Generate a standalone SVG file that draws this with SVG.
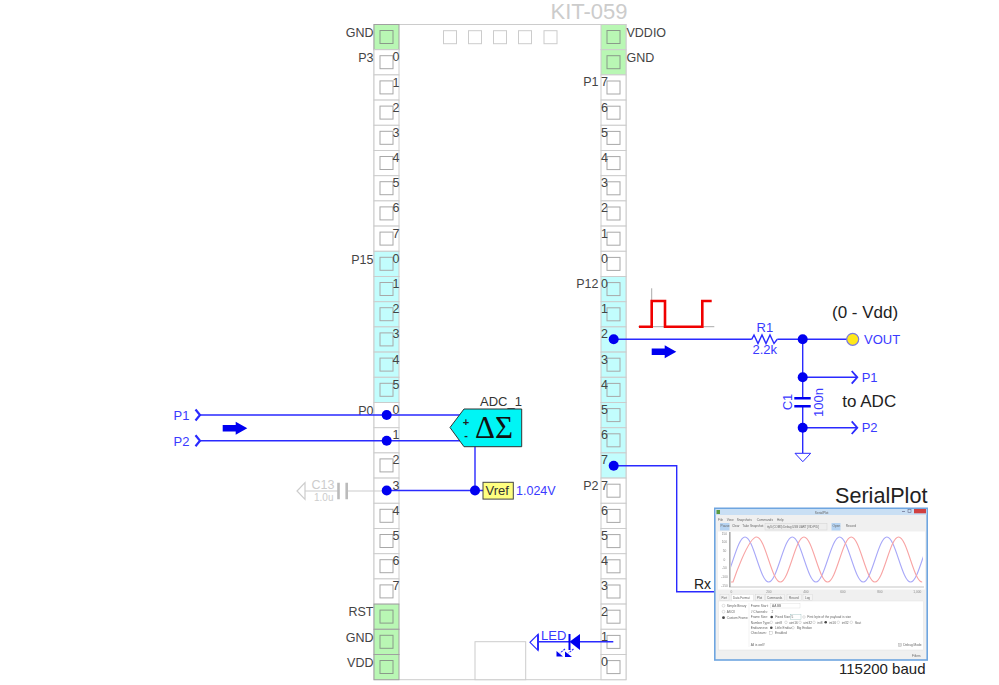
<svg xmlns="http://www.w3.org/2000/svg" width="999" height="685" viewBox="0 0 999 685">
<style>
text{font-family:"Liberation Sans",Arial,sans-serif}
.bg{fill:#fff}
.c{fill:#fff;stroke:#ccc;stroke-width:1}
.g{fill:#b9f7b4;stroke:#a0a0a0;stroke-width:1}
.y{fill:#c2fdfd;stroke:#ccc;stroke-width:1}
.s{fill:none;stroke:#a8a8a8;stroke-width:1}
.sg{fill:none;stroke:#8a9a8a;stroke-width:1}
.t{fill:#444;font-size:12.5px}
.l{fill:#444;font-size:12.5px;text-anchor:end}
.b{fill:#3a3aff;font-size:13px}
.w{fill:none;stroke:#2a2aff;stroke-width:1.4}
.d{fill:#0000f0}
.k{fill:#222}
.m{font-size:3.2px;fill:#666}
.a{font-size:3.2px;fill:#888;text-anchor:middle}
.r{fill:#fff;stroke:#999;stroke-width:.3}
.on{fill:#444}
.tab{fill:#f4f4f4;stroke:#ccc;stroke-width:.3}
</style>
<defs>
<filter id="soft" x="-5%" y="-5%" width="110%" height="110%"><feGaussianBlur stdDeviation="0.5"/></filter>
<clipPath id="plotclip"><rect x="731" y="532" width="192" height="55"/></clipPath>
<path id="arrow" d="M0-3.2H13V-6.5L24.6 0 13 6.5V3.2H0Z" fill="#0000f0"/>
</defs>
<rect class="bg" width="999" height="685"/>
<g id="kit">
<rect x="374" y="24.5" width="252" height="655.2" fill="#fff" stroke="#ccc"/>
<text x="550.5" y="19" font-size="22" fill="#ccc">KIT-059</text>
<g class="s" style="stroke:#ccc"><rect x="443.5" y="30.7" width="13" height="13"/><rect x="468.5" y="30.7" width="13" height="13"/><rect x="493.5" y="30.7" width="13" height="13"/><rect x="518.5" y="30.7" width="13" height="13"/><rect x="544" y="30.7" width="13" height="13"/></g>
<rect id="usb" x="475" y="641.7" width="50.7" height="38" fill="#fff" stroke="#ccc"/>
</g>
<g id="left-pins">
<g id="L-GND1"><rect class="g" x="374" y="24.5" width="25" height="25.2"/><rect class="sg" x="380" y="30.5" width="13" height="13"/><text class="l" x="373.5" y="36.5">GND</text></g>
<g id="L-P3-0"><rect class="c" x="374" y="49.7" width="25" height="25.2"/><rect class="s" x="380" y="55.7" width="13" height="13"/><text class="t" x="392.5" y="61">0</text><text class="l" x="373.5" y="62">P3</text></g>
<g id="L-P3-1"><rect class="c" x="374" y="74.9" width="25" height="25.2"/><rect class="s" x="380" y="80.9" width="13" height="13"/><text class="t" x="392.5" y="86.5">1</text></g>
<g id="L-P3-2"><rect class="c" x="374" y="100.1" width="25" height="25.2"/><rect class="s" x="380" y="106.1" width="13" height="13"/><text class="t" x="392.5" y="111.5">2</text></g>
<g id="L-P3-3"><rect class="c" x="374" y="125.3" width="25" height="25.2"/><rect class="s" x="380" y="131.3" width="13" height="13"/><text class="t" x="392.5" y="136.8">3</text></g>
<g id="L-P3-4"><rect class="c" x="374" y="150.5" width="25" height="25.2"/><rect class="s" x="380" y="156.5" width="13" height="13"/><text class="t" x="392.5" y="162">4</text></g>
<g id="L-P3-5"><rect class="c" x="374" y="175.7" width="25" height="25.2"/><rect class="s" x="380" y="181.7" width="13" height="13"/><text class="t" x="392.5" y="187.2">5</text></g>
<g id="L-P3-6"><rect class="c" x="374" y="200.9" width="25" height="25.2"/><rect class="s" x="380" y="206.9" width="13" height="13"/><text class="t" x="392.5" y="212.4">6</text></g>
<g id="L-P3-7"><rect class="c" x="374" y="226.1" width="25" height="25.2"/><rect class="s" x="380" y="232.1" width="13" height="13"/><text class="t" x="392.5" y="237.6">7</text></g>
<g id="L-P15-0"><rect class="y" x="374" y="251.3" width="25" height="25.2"/><rect class="s" x="380" y="257.3" width="13" height="13"/><text class="t" x="392.5" y="262.8">0</text><text class="l" x="373.5" y="263.8">P15</text></g>
<g id="L-P15-1"><rect class="y" x="374" y="276.5" width="25" height="25.2"/><rect class="s" x="380" y="282.5" width="13" height="13"/><text class="t" x="392.5" y="288">1</text></g>
<g id="L-P15-2"><rect class="y" x="374" y="301.7" width="25" height="25.2"/><rect class="s" x="380" y="307.7" width="13" height="13"/><text class="t" x="392.5" y="313.2">2</text></g>
<g id="L-P15-3"><rect class="y" x="374" y="326.9" width="25" height="25.2"/><rect class="s" x="380" y="332.9" width="13" height="13"/><text class="t" x="392.5" y="338.4">3</text></g>
<g id="L-P15-4"><rect class="y" x="374" y="352.1" width="25" height="25.2"/><rect class="s" x="380" y="358.1" width="13" height="13"/><text class="t" x="392.5" y="363.6">4</text></g>
<g id="L-P15-5"><rect class="y" x="374" y="377.3" width="25" height="25.2"/><rect class="s" x="380" y="383.3" width="13" height="13"/><text class="t" x="392.5" y="388.8">5</text></g>
<g id="L-P0-0"><rect class="c" x="374" y="402.5" width="25" height="25.2"/><text class="t" x="392.5" y="414">0</text><text class="l" x="373.5" y="415">P0</text></g>
<g id="L-P0-1"><rect class="c" x="374" y="427.7" width="25" height="25.2"/><text class="t" x="392.5" y="439.2">1</text></g>
<g id="L-P0-2"><rect class="c" x="374" y="452.9" width="25" height="25.2"/><rect class="s" x="380" y="458.9" width="13" height="13"/><text class="t" x="392.5" y="464.4">2</text></g>
<g id="L-P0-3"><rect class="c" x="374" y="478.1" width="25" height="25.2"/><text class="t" x="392.5" y="489.6">3</text></g>
<g id="L-P0-4"><rect class="c" x="374" y="503.3" width="25" height="25.2"/><rect class="s" x="380" y="509.3" width="13" height="13"/><text class="t" x="392.5" y="514.8">4</text></g>
<g id="L-P0-5"><rect class="c" x="374" y="528.5" width="25" height="25.2"/><rect class="s" x="380" y="534.5" width="13" height="13"/><text class="t" x="392.5" y="540">5</text></g>
<g id="L-P0-6"><rect class="c" x="374" y="553.7" width="25" height="25.2"/><rect class="s" x="380" y="559.7" width="13" height="13"/><text class="t" x="392.5" y="565.2">6</text></g>
<g id="L-P0-7"><rect class="c" x="374" y="578.9" width="25" height="25.2"/><rect class="s" x="380" y="584.9" width="13" height="13"/><text class="t" x="392.5" y="590.4">7</text></g>
<g id="L-RST"><rect class="g" x="374" y="604.1" width="25" height="25.2"/><rect class="sg" x="380" y="610.1" width="13" height="13"/><text class="l" x="373.5" y="616">RST</text></g>
<g id="L-GND2"><rect class="g" x="374" y="629.3" width="25" height="25.2"/><rect class="sg" x="380" y="635.3" width="13" height="13"/><text class="l" x="373.5" y="641.5">GND</text></g>
<g id="L-VDD"><rect class="g" x="374" y="654.5" width="25" height="25.2"/><rect class="sg" x="380" y="660.5" width="13" height="13"/><text class="l" x="373.5" y="666.7">VDD</text></g>
</g>
<g id="right-pins">
<g id="R-VDDIO"><rect class="g" x="601" y="24.5" width="25" height="25.2" style="stroke:#ccc"/><rect class="sg" x="607" y="30.5" width="13" height="13"/><text class="t" x="626.5" y="36.5">VDDIO</text></g>
<g id="R-GND"><rect class="g" x="601" y="49.7" width="25" height="25.2" style="stroke:#ccc"/><rect class="sg" x="607" y="55.7" width="13" height="13"/><text class="t" x="626.5" y="62">GND</text></g>
<g id="R-P1-7"><rect class="c" x="601" y="74.9" width="25" height="25.2"/><rect class="s" x="607" y="81" width="13" height="13"/><text class="t" x="601" y="86">7</text><text class="l" x="598.5" y="86">P1</text></g>
<g id="R-P1-6"><rect class="c" x="601" y="100.1" width="25" height="25.2"/><rect class="s" x="607" y="106.2" width="13" height="13"/><text class="t" x="601" y="111.5">6</text></g>
<g id="R-P1-5"><rect class="c" x="601" y="125.3" width="25" height="25.2"/><rect class="s" x="607" y="131.4" width="13" height="13"/><text class="t" x="601" y="136.8">5</text></g>
<g id="R-P1-4"><rect class="c" x="601" y="150.5" width="25" height="25.2"/><rect class="s" x="607" y="156.6" width="13" height="13"/><text class="t" x="601" y="162">4</text></g>
<g id="R-P1-3"><rect class="c" x="601" y="175.7" width="25" height="25.2"/><rect class="s" x="607" y="181.8" width="13" height="13"/><text class="t" x="601" y="187.2">3</text></g>
<g id="R-P1-2"><rect class="c" x="601" y="200.9" width="25" height="25.2"/><rect class="s" x="607" y="207" width="13" height="13"/><text class="t" x="601" y="212.4">2</text></g>
<g id="R-P1-1"><rect class="c" x="601" y="226.1" width="25" height="25.2"/><rect class="s" x="607" y="232.2" width="13" height="13"/><text class="t" x="601" y="237.6">1</text></g>
<g id="R-P1-0"><rect class="c" x="601" y="251.3" width="25" height="25.2"/><rect class="s" x="607" y="257.4" width="13" height="13"/><text class="t" x="601" y="262.8">0</text></g>
<g id="R-P12-0"><rect class="y" x="601" y="276.5" width="25" height="25.2"/><rect class="s" x="607" y="282.6" width="13" height="13"/><text class="t" x="601" y="288">0</text><text class="l" x="598.5" y="288">P12</text></g>
<g id="R-P12-1"><rect class="y" x="601" y="301.7" width="25" height="25.2"/><rect class="s" x="607" y="307.8" width="13" height="13"/><text class="t" x="601" y="313.2">1</text></g>
<g id="R-P12-2"><rect class="y" x="601" y="326.9" width="25" height="25.2"/><text class="t" x="601" y="338.4">2</text></g>
<g id="R-P12-3"><rect class="y" x="601" y="352.1" width="25" height="25.2"/><rect class="s" x="607" y="358.2" width="13" height="13"/><text class="t" x="601" y="363.6">3</text></g>
<g id="R-P12-4"><rect class="y" x="601" y="377.3" width="25" height="25.2"/><rect class="s" x="607" y="383.4" width="13" height="13"/><text class="t" x="601" y="388.8">4</text></g>
<g id="R-P12-5"><rect class="y" x="601" y="402.5" width="25" height="25.2"/><rect class="s" x="607" y="408.6" width="13" height="13"/><text class="t" x="601" y="414">5</text></g>
<g id="R-P12-6"><rect class="y" x="601" y="427.7" width="25" height="25.2"/><rect class="s" x="607" y="433.8" width="13" height="13"/><text class="t" x="601" y="439.2">6</text></g>
<g id="R-P12-7"><rect class="y" x="601" y="452.9" width="25" height="25.2"/><text class="t" x="601" y="464.4">7</text></g>
<g id="R-P2-7"><rect class="c" x="601" y="478.1" width="25" height="25.2"/><rect class="s" x="607" y="484.2" width="13" height="13"/><text class="t" x="601" y="489.6">7</text><text class="l" x="598.5" y="489.6">P2</text></g>
<g id="R-P2-6"><rect class="c" x="601" y="503.3" width="25" height="25.2"/><rect class="s" x="607" y="509.4" width="13" height="13"/><text class="t" x="601" y="514.8">6</text></g>
<g id="R-P2-5"><rect class="c" x="601" y="528.5" width="25" height="25.2"/><rect class="s" x="607" y="534.6" width="13" height="13"/><text class="t" x="601" y="540">5</text></g>
<g id="R-P2-4"><rect class="c" x="601" y="553.7" width="25" height="25.2"/><rect class="s" x="607" y="559.8" width="13" height="13"/><text class="t" x="601" y="565.2">4</text></g>
<g id="R-P2-3"><rect class="c" x="601" y="578.9" width="25" height="25.2"/><rect class="s" x="607" y="585" width="13" height="13"/><text class="t" x="601" y="590.4">3</text></g>
<g id="R-P2-2"><rect class="c" x="601" y="604.1" width="25" height="25.2"/><rect class="s" x="607" y="610.2" width="13" height="13"/><text class="t" x="601" y="615.6">2</text></g>
<g id="R-P2-1"><rect class="c" x="601" y="629.3" width="25" height="25.2"/><rect class="s" x="607" y="635.4" width="13" height="13"/><text class="t" x="601" y="640.8">1</text></g>
<g id="R-P2-0"><rect class="c" x="601" y="654.5" width="25" height="25.2"/><rect class="s" x="607" y="660.6" width="13" height="13"/><text class="t" x="601" y="666">0</text></g>
</g>
<g id="connectors">
<path d="M305 491H338M347 491H386.7" fill="none" stroke="#ccc" stroke-width="1.2"/>
<path class="w" d="M199 415H462M199 440.7H460M386.7 490.5H483M475 446V490.5"/>
<path class="w" d="M613.7 339.3H751.7M777.3 339.3H847M802.7 339.3V398M802.7 406V453.3M802.7 377.3H857M802.7 427.7H857"/>
<path class="w" d="M613.7 465.8H676.7V591.7H716"/>
<path class="w" d="M538 641.7H570M580 641.7H613.3"/>
</g>
<g id="P1-in"><path class="w" style="stroke-width:2.2" d="M195.5 409.5L200 415 195.5 420.5"/><text class="b" x="173.5" y="420">P1</text></g>
<g id="P2-in"><path class="w" style="stroke-width:2.2" d="M195.5 435.2L200 440.7 195.5 446.2"/><text class="b" x="173.5" y="445.5">P2</text></g>
<use id="flow-left" href="#arrow" x="222.7" y="428.3"/>
<use id="flow-right" href="#arrow" x="651.7" y="351.7"/>
<g id="dots"><circle class="d" cx="386.7" cy="415" r="5"/><circle class="d" cx="386.7" cy="440.7" r="5"/><circle class="d" cx="386.7" cy="490.5" r="5"/><circle class="d" cx="475" cy="490.5" r="5"/><circle class="d" cx="613.7" cy="339.3" r="5"/><circle class="d" cx="613.7" cy="465.8" r="5"/><circle class="d" cx="802.7" cy="339.3" r="5"/><circle class="d" cx="802.7" cy="377.3" r="5"/><circle class="d" cx="802.7" cy="427.7" r="5"/></g>
<g id="ADC_1">
<path d="M450 427.5L464 409H521.7V446.7H464Z" fill="#00f5f5" stroke="#333" stroke-width="1"/>
<text class="t" x="480" y="405.5" style="font-size:13px;fill:#333">ADC_1</text>
<text x="466" y="425.5" font-size="11" font-weight="bold" text-anchor="middle" fill="#222">+</text>
<text x="466" y="438.5" font-size="11" font-weight="bold" text-anchor="middle" fill="#222">-</text>
<text x="475" y="438" font-size="31" style="font-family:'Liberation Serif','DejaVu Serif',serif" fill="#111">ΔΣ</text>
</g>
<g id="Vref"><rect x="483" y="482.3" width="30.3" height="16.8" fill="#ffff80" stroke="#444"/><text x="485.5" y="495" font-size="13" fill="#333">Vref</text><text class="b" x="516" y="495" style="font-size:12.5px">1.024V</text></g>
<g id="C13" fill="#ccc">
<path d="M305 482.7L297 491 305 499.3Z" fill="#fff" stroke="#ccc" stroke-width="1.2"/>
<path d="M338.5 482.7V499.3M346.7 482.7V499.3" fill="none" stroke="#bbb" stroke-width="2.6"/>
<text x="311.5" y="489" font-size="12.5">C13</text><text x="314" y="500.5" font-size="10">1.0u</text>
</g>
<g id="R1"><path class="w" d="M751.7 339.3L754 335 758 343.5 762 335 766 343.5 770 335 774 343.5 777.3 339.3"/><text class="b" x="756.5" y="332">R1</text><text class="b" x="752.5" y="354">2.2k</text></g>
<g id="VOUT"><circle cx="852.7" cy="339.3" r="6" fill="#ffe81a" stroke="#7a7ae0" stroke-width="1.2"/><text class="b" x="864" y="344">VOUT</text></g>
<text id="vrange" class="k" x="832" y="318" font-size="17">(0 - Vdd)</text>
<g id="P1-out"><path class="w" style="stroke-width:1.8" d="M851.7 371L857.3 377.3 851.7 383.7"/><text class="b" x="861.7" y="381.5">P1</text></g>
<g id="P2-out"><path class="w" style="stroke-width:1.8" d="M851.7 421.4L857.3 427.7 851.7 434"/><text class="b" x="861.7" y="432">P2</text></g>
<text id="toadc" class="k" x="842.3" y="407" font-size="17">to ADC</text>
<g id="C1"><path d="M794.3 398.3H810.7M794.3 406.2H810.7" fill="none" stroke="#0000f0" stroke-width="2.4"/><text class="b" transform="translate(792 402) rotate(-90)" text-anchor="middle">C1</text><text class="b" transform="translate(823.3 402.5) rotate(-90)" text-anchor="middle">100n</text></g>
<path id="ground" d="M795 453.3H810.7L802.8 461.7Z" fill="#fff" stroke="#2a2aff" stroke-width="1"/>
<g id="pulse"><path d="M651.7 288.3V326.7M638.3 326.7H714.3" fill="none" stroke="#aaa" stroke-width="1"/><path d="M639 326.7H651.7V301H665V326.7H702.3V301H711.7" fill="none" stroke="#f00000" stroke-width="2.6"/></g>
<g id="LED">
<path d="M538 634.3L530 642.3 538 650.3Z" fill="#fff" stroke="#2a2aff" stroke-width="1.2"/>
<path d="M538 634.3V650.3" fill="none" stroke="#2a2aff" stroke-width="2"/>
<path d="M569.5 641.7L580 634V650Z" fill="#0000f0"/>
<path d="M569.5 634V650" fill="none" stroke="#0000f0" stroke-width="2"/>
<text class="b" x="541" y="639.5">LED</text>
<path d="M565 649L560 653M573.5 649L568.5 653" fill="none" stroke="#2a2aff" stroke-width="1.1" stroke-dasharray="2 1"/>
<path d="M556.5 651L563 656.5H556.5ZM565 651.5L572 657H565Z" fill="#0000f0"/>
</g>
<text id="Rx" class="k" x="694" y="589" font-size="14">Rx</text>
<text id="sp-title" class="k" x="835" y="502.7" font-size="21.6">SerialPlot</text>
<text id="baud" class="k" x="839" y="674" font-size="15">115200 baud</text>
<g id="SerialPlot-window" filter="url(#soft)">
<rect x="714.8" y="508.3" width="212.4" height="151.7" fill="#f0f0f0" stroke="#6ea5e0" stroke-width="1.6"/>
<rect x="715.6" y="509" width="210.8" height="6" fill="#c9dff4"/>
<rect x="716.5" y="510" width="3.5" height="4" fill="#5a9a40"/>
<text class="m" x="821.7" y="513.5" text-anchor="middle">SerialPlot</text>
<rect x="914" y="509" width="12" height="4.3" fill="#d04040"/>
<rect x="908" y="509.5" width="3" height="3" fill="none" stroke="#557" stroke-width=".5"/>
<rect x="902" y="511" width="3" height=".6" fill="#557"/>
<text class="m" x="718" y="520.5">File</text><text class="m" x="726.7" y="520.5">View</text><text class="m" x="736.7" y="520.5">Snapshots</text><text class="m" x="756.7" y="520.5">Commands</text><text class="m" x="777" y="520.5">Help</text>
<rect x="720" y="523" width="9.5" height="7.5" fill="#b5d3f2"/><text class="m" x="720.5" y="526.5">Pause</text>
<text class="m" x="732" y="526.5">Clear</text><text class="m" x="742.3" y="526.5">Take Snapshot</text>
<rect x="765" y="523.5" width="62" height="6.5" fill="#eee" stroke="#ccc" stroke-width=".4"/>
<text class="m" x="767" y="527.5" style="font-size:2.8px">ttyS (COM3) Debug USB UART [VID:PID]</text>
<rect x="831.5" y="523" width="9" height="7.5" fill="#b5d3f2"/><text class="m" x="832.5" y="526.5">Open</text>
<text class="m" x="845.7" y="526.5">Record</text>
<rect x="718" y="531.5" width="207" height="58" fill="#fff"/>
<rect x="729" y="532" width="1.6" height="55" fill="#aaa"/>
<path d="M729 587H924" stroke="#888" stroke-width=".5"/>
<text class="a" x="724.5" y="534.5">150</text><text class="a" x="724.5" y="543">100</text><text class="a" x="724.5" y="551.7">50</text><text class="a" x="724.5" y="560.5">0</text><text class="a" x="724.5" y="569">-50</text><text class="a" x="724.5" y="577.7">-100</text><text class="a" x="724.5" y="586.5">-150</text>
<text class="a" x="731.3" y="592.5">0</text><text class="a" x="769" y="592.5">200</text><text class="a" x="806" y="592.5">400</text><text class="a" x="843" y="592.5">600</text><text class="a" x="880" y="592.5">800</text><text class="a" x="917.3" y="592.5">1,000</text>
<g clip-path="url(#plotclip)" fill="none" stroke-width="1.1">
<path stroke="#a8a8f8" d="M721.35 582C729.95 582 736.4 537 745 537S760.05 582 768.65 582S783.7 537 792.3 537S807.35 582 815.95 582S831 537 839.6 537S854.65 582 863.25 582S878.3 537 886.9 537S901.95 582 910.55 582S925.6 537 934.2 537"/>
<path stroke="#f8a4a4" d="M724.4 582H733S748.05 537 756.65 537S771.7 582 780.3 582S795.35 537 803.95 537S819 582 827.6 582S842.65 537 851.25 537S866.3 582 874.9 582S889.95 537 898.55 537S913.6 582 922.2 582"/>
</g>
<rect class="tab" x="720" y="594.5" width="9" height="6"/>
<rect x="731.5" y="594.5" width="22" height="6.5" fill="#fff" stroke="#ccc" stroke-width=".3"/>
<rect class="tab" x="755.5" y="594.5" width="9" height="6"/>
<rect class="tab" x="765.7" y="594.5" width="19" height="6"/>
<rect class="tab" x="787" y="594.5" width="14.5" height="6"/>
<rect class="tab" x="803" y="594.5" width="9.3" height="6"/>
<text class="m" x="721.5" y="599" style="font-size:3px">Port</text><text class="m" x="733" y="599" style="font-size:3px">Data Format</text><text class="m" x="757" y="599" style="font-size:3px">Plot</text><text class="m" x="767" y="599" style="font-size:3px">Commands</text><text class="m" x="789" y="599" style="font-size:3px">Record</text><text class="m" x="805" y="599" style="font-size:3px">Log</text>
<rect x="718.5" y="601" width="205" height="49" fill="#fff" stroke="#ddd" stroke-width=".4"/>
<circle class="r" cx="723.5" cy="605.7" r="1.4"/><text class="m" x="726.7" y="607">Simple Binary</text>
<circle class="r" cx="723.5" cy="611.7" r="1.4"/><text class="m" x="726.7" y="613">ASCII</text>
<circle class="on" cx="723.5" cy="617.7" r="1.4"/><text class="m" x="726.7" y="619">Custom Frame</text>
<path d="M749 603V647" stroke="#ddd" stroke-width=".4"/>
<text class="m" x="750.7" y="606.9">Frame Start:</text><rect x="770.7" y="603.5" width="29.3" height="4.5" fill="#fff" stroke="#ccc" stroke-width=".3"/><text class="m" x="772" y="606.9">AA BB</text>
<text class="m" x="750.7" y="612.5"># Channels:</text><text class="m" x="771.5" y="612.5">2</text>
<text class="m" x="750.7" y="618.2">Frame Size:</text><circle class="on" cx="771.7" cy="617" r="1.3"/><text class="m" x="775.2" y="618.2">Fixed Size:</text><rect x="790.7" y="614.8" width="10.3" height="4.5" fill="#fff" stroke="#7aa" stroke-width=".3"/><text class="m" x="791.5" y="618.2">5</text><circle class="r" cx="804" cy="617" r="1.3"/><text class="m" x="807.3" y="618.2">First byte of the payload is size</text>
<text class="m" x="750.7" y="623.5">Number Type:</text>
<circle class="r" cx="771.3" cy="622.3" r="1.3"/><text class="m" x="775" y="623.5">uint8</text>
<circle class="r" cx="786" cy="622.3" r="1.3"/><text class="m" x="789" y="623.5">uint16</text>
<circle class="r" cx="800" cy="622.3" r="1.3"/><text class="m" x="803.3" y="623.5">uint32</text>
<circle class="r" cx="814" cy="622.3" r="1.3"/><text class="m" x="817.3" y="623.5">int8</text>
<circle class="on" cx="825.7" cy="622.3" r="1.3"/><text class="m" x="829" y="623.5">int16</text>
<circle class="r" cx="838.3" cy="622.3" r="1.3"/><text class="m" x="841.7" y="623.5">int32</text>
<circle class="r" cx="851.3" cy="622.3" r="1.3"/><text class="m" x="855" y="623.5">float</text>
<text class="m" x="750.7" y="628.9">Endianness:</text><circle class="on" cx="771.3" cy="627.7" r="1.3"/><text class="m" x="775" y="628.9">Little Endian</text><circle class="r" cx="793" cy="627.7" r="1.3"/><text class="m" x="796.7" y="628.9">Big Endian</text>
<text class="m" x="750.7" y="634.2">Checksum:</text><rect class="r" x="769.8" y="631.5" width="3" height="3"/><text class="m" x="775" y="634.2">Enabled</text>
<text class="m" x="750.7" y="646.2">All is well!</text>
<rect x="898.5" y="643.5" width="3" height="3" fill="#ddd" stroke="#999" stroke-width=".3"/><text class="m" x="903.3" y="646.2">Debug Mode</text>
<text class="m" x="912" y="657">Filters</text>
</g>
</svg>
